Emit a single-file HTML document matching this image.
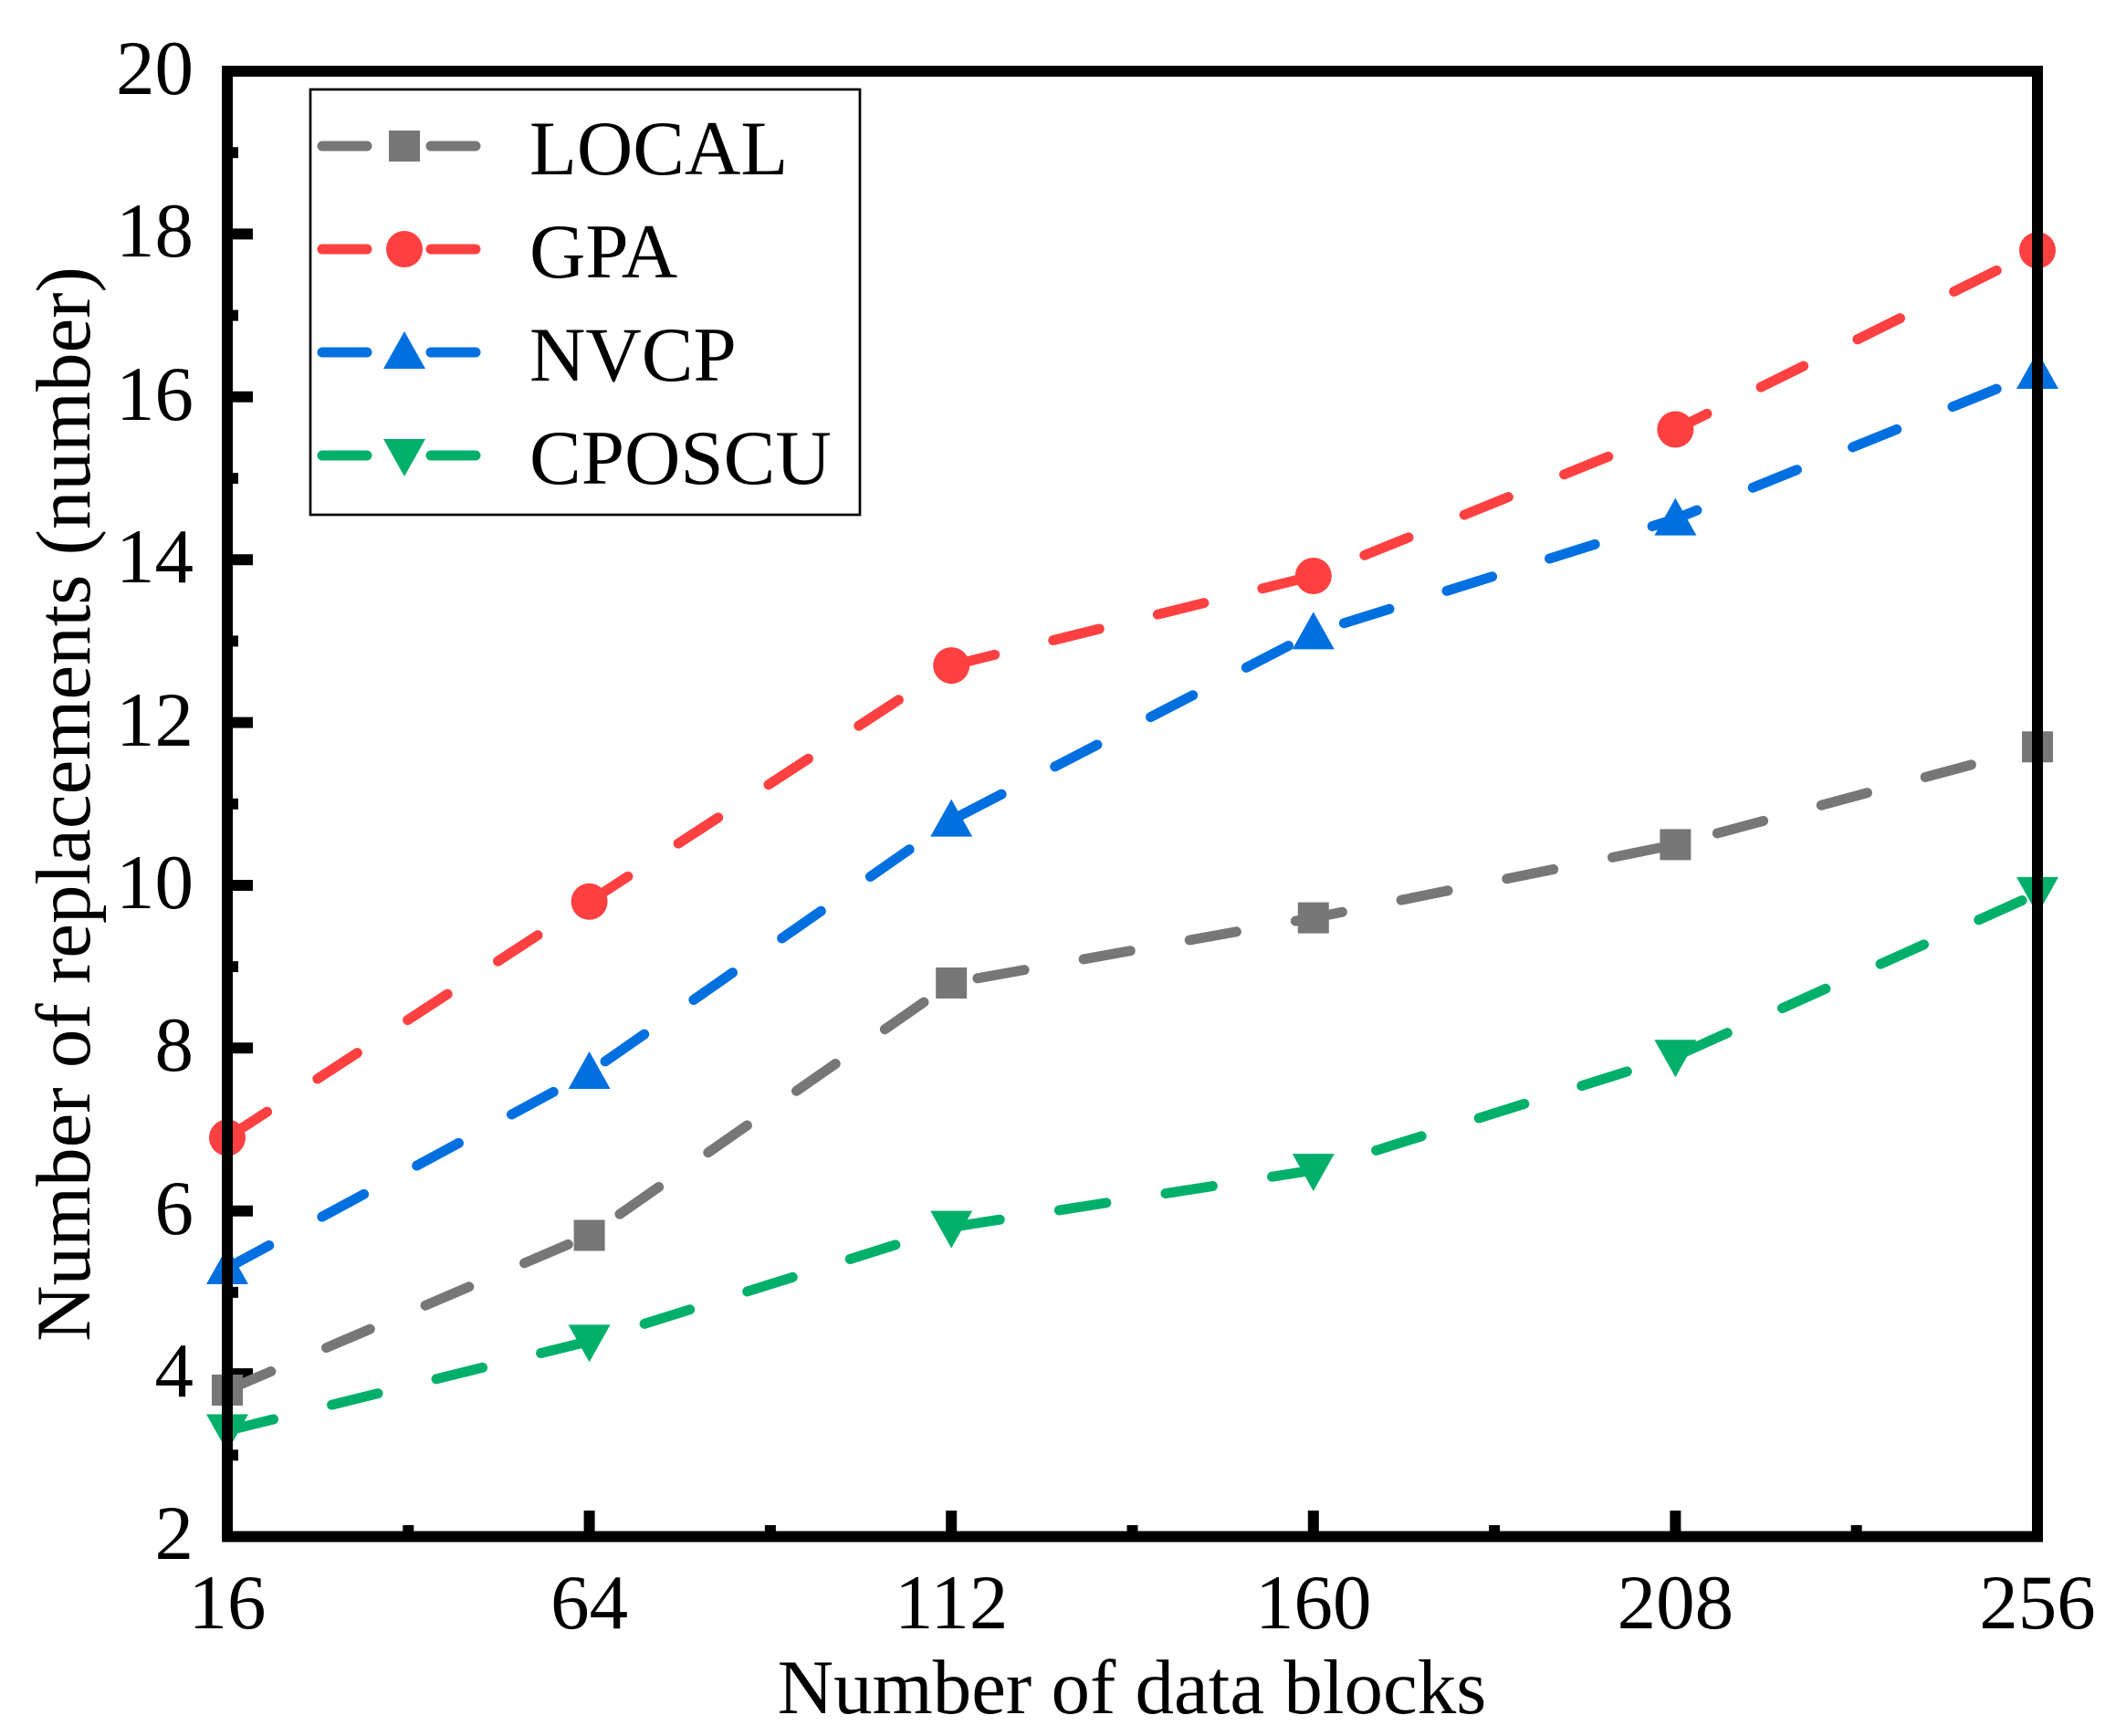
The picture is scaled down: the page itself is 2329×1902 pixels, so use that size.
<!DOCTYPE html>
<html><head><meta charset="utf-8"><style>
html,body{margin:0;padding:0;background:#fff;}
svg{display:block;}
text{font-family:"Liberation Serif","Times New Roman",serif;fill:#000;}
</style></head><body>
<svg width="2329" height="1902" viewBox="0 0 2329 1902" xmlns="http://www.w3.org/2000/svg">
<rect width="2329" height="1902" fill="#fff"/>
<!-- y ticks -->
<g stroke="#000" stroke-width="12">
<line x1="249" y1="1594.3" x2="261" y2="1594.3"/>
<line x1="249" y1="1505.1" x2="277" y2="1505.1"/>
<line x1="249" y1="1415.9" x2="261" y2="1415.9"/>
<line x1="249" y1="1326.7" x2="277" y2="1326.7"/>
<line x1="249" y1="1237.5" x2="261" y2="1237.5"/>
<line x1="249" y1="1148.3" x2="277" y2="1148.3"/>
<line x1="249" y1="1059.1" x2="261" y2="1059.1"/>
<line x1="249" y1="970" x2="277" y2="970"/>
<line x1="249" y1="880.8" x2="261" y2="880.8"/>
<line x1="249" y1="791.6" x2="277" y2="791.6"/>
<line x1="249" y1="702.4" x2="261" y2="702.4"/>
<line x1="249" y1="613.2" x2="277" y2="613.2"/>
<line x1="249" y1="524" x2="261" y2="524"/>
<line x1="249" y1="434.8" x2="277" y2="434.8"/>
<line x1="249" y1="345.6" x2="261" y2="345.6"/>
<line x1="249" y1="256.4" x2="277" y2="256.4"/>
<line x1="249" y1="167.2" x2="261" y2="167.2"/>
<!-- x ticks -->
<line x1="447.3" y1="1683.5" x2="447.3" y2="1671"/>
<line x1="645.6" y1="1683.5" x2="645.6" y2="1655"/>
<line x1="843.9" y1="1683.5" x2="843.9" y2="1671"/>
<line x1="1042.2" y1="1683.5" x2="1042.2" y2="1655"/>
<line x1="1240.5" y1="1683.5" x2="1240.5" y2="1671"/>
<line x1="1438.8" y1="1683.5" x2="1438.8" y2="1655"/>
<line x1="1637.1" y1="1683.5" x2="1637.1" y2="1671"/>
<line x1="1835.4" y1="1683.5" x2="1835.4" y2="1655"/>
<line x1="2033.7" y1="1683.5" x2="2033.7" y2="1671"/>
</g>
<!-- y labels -->
<g font-size="85" text-anchor="end">
<text x="212" y="1708">2</text>
<text x="212" y="1530">4</text>
<text x="212" y="1352">6</text>
<text x="212" y="1173">8</text>
<text x="212" y="995">10</text>
<text x="212" y="817">12</text>
<text x="212" y="638">14</text>
<text x="212" y="460">16</text>
<text x="212" y="281">18</text>
<text x="212" y="103">20</text>
</g>
<g font-size="85" text-anchor="middle">
<text x="249" y="1784">16</text>
<text x="645.6" y="1784">64</text>
<text x="1042.2" y="1784">112</text>
<text x="1438.8" y="1784">160</text>
<text x="1835.4" y="1784">208</text>
<text x="2232" y="1784">256</text>
<text x="1240" y="1877">Number of data blocks</text>
<text transform="translate(98,881) rotate(-90)">Number of replacements (number)</text>
</g>
<!-- series -->
<g fill="none" stroke-width="11" stroke-linecap="round" stroke-dasharray="52 66">
<polyline stroke="#777777" points="249,1523 645.6,1353.5 1042.2,1077 1438.8,1005.6 1835.4,925.4 2232,818.3"/>
<polyline stroke="#FF4040" points="249,1246.5 645.6,987.8 1042.2,729.1 1438.8,631 1835.4,470.5 2232,274.2"/>
<polyline stroke="#0070E0" points="249,1389.2 645.6,1175.1 1042.2,898.6 1438.8,693.4 1835.4,568.6 2232,408"/>
<polyline stroke="#00B06A" points="249,1567.5 645.6,1469.4 1042.2,1344.6 1438.8,1282.1 1835.4,1157.3 2232,978.9"/>
</g>
<g fill="#777777">
<rect x="232" y="1506" width="34" height="34"/>
<rect x="628.6" y="1336.5" width="34" height="34"/>
<rect x="1025.2" y="1060" width="34" height="34"/>
<rect x="1421.8" y="988.6" width="34" height="34"/>
<rect x="1818.4" y="908.4" width="34" height="34"/>
<rect x="2215" y="801.3" width="34" height="34"/>
</g>
<g fill="#FF4040">
<circle cx="249" cy="1246.5" r="20"/>
<circle cx="645.6" cy="987.8" r="20"/>
<circle cx="1042.2" cy="729.1" r="20"/>
<circle cx="1438.8" cy="631" r="20"/>
<circle cx="1835.4" cy="470.5" r="20"/>
<circle cx="2232" cy="274.2" r="20"/>
</g>
<g fill="#0070E0">
<polygon points="249,1366 226,1407 272,1407"/>
<polygon points="645.6,1152 622.6,1193 668.6,1193"/>
<polygon points="1042.2,875.6 1019.2,916.6 1065.2,916.6"/>
<polygon points="1438.8,670.4 1415.8,711.4 1461.8,711.4"/>
<polygon points="1835.4,545.6 1812.4,586.6 1858.4,586.6"/>
<polygon points="2232,385 2209,426 2255,426"/>
</g>
<g fill="#00B06A">
<polygon points="249,1590.5 226,1549.5 272,1549.5"/>
<polygon points="645.6,1492.4 622.6,1451.4 668.6,1451.4"/>
<polygon points="1042.2,1367.6 1019.2,1326.6 1065.2,1326.6"/>
<polygon points="1438.8,1305.1 1415.8,1264.1 1461.8,1264.1"/>
<polygon points="1835.4,1180.3 1812.4,1139.3 1858.4,1139.3"/>
<polygon points="2232,1001.9 2209,960.9 2255,960.9"/>
</g>
<!-- frame -->
<rect x="249" y="78" width="1983" height="1605.5" fill="none" stroke="#000" stroke-width="12"/>
<!-- legend -->
<rect x="340" y="98" width="602" height="466" fill="#fff" stroke="#000" stroke-width="2.7"/>
<g stroke-width="11" stroke-linecap="round">
<line x1="353" y1="160" x2="402" y2="160" stroke="#777777"/><line x1="472" y1="160" x2="521" y2="160" stroke="#777777"/>
<line x1="353" y1="273" x2="402" y2="273" stroke="#FF4040"/><line x1="472" y1="273" x2="521" y2="273" stroke="#FF4040"/>
<line x1="353" y1="386" x2="402" y2="386" stroke="#0070E0"/><line x1="472" y1="386" x2="521" y2="386" stroke="#0070E0"/>
<line x1="353" y1="499" x2="402" y2="499" stroke="#00B06A"/><line x1="472" y1="499" x2="521" y2="499" stroke="#00B06A"/>
</g>
<rect x="426" y="143" width="34" height="34" fill="#777777"/>
<circle cx="443" cy="273" r="20" fill="#FF4040"/>
<polygon points="443,363 420,404 466,404" fill="#0070E0"/>
<polygon points="443,522 420,481 466,481" fill="#00B06A"/>
<g font-size="85">
<text x="580" y="191">LOCAL</text>
<text x="580" y="304">GPA</text>
<text x="580" y="417">NVCP</text>
<text x="580" y="530">CPOSCU</text>
</g>
</svg>
</body></html>
